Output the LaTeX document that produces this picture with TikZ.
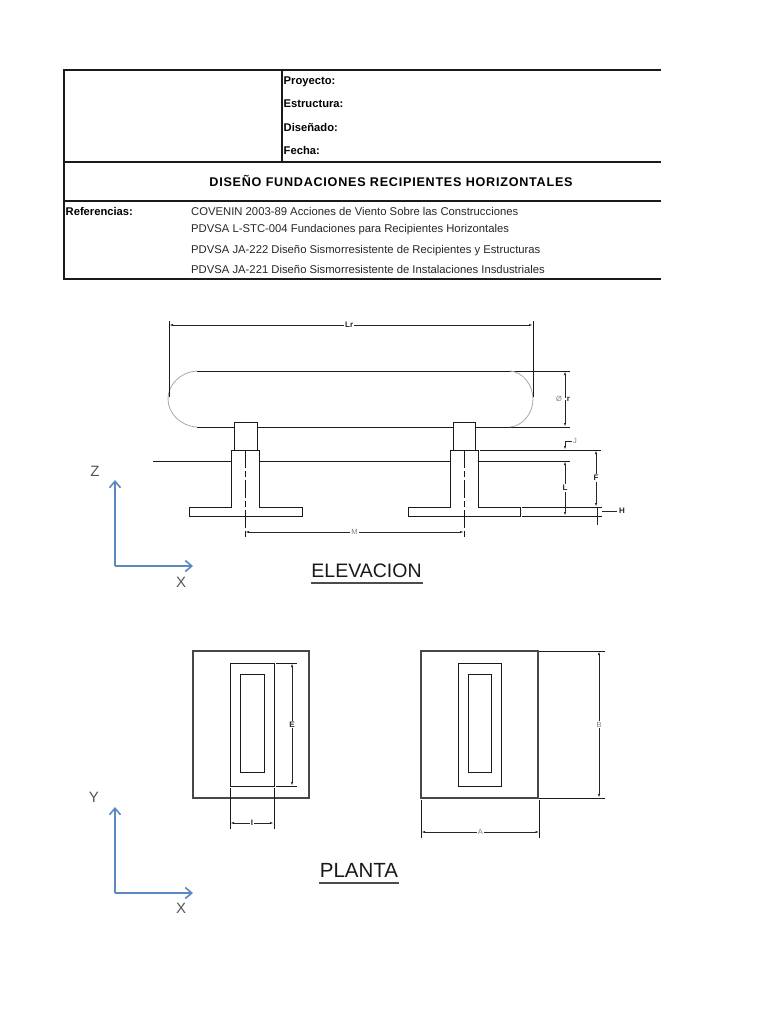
\documentclass[tikz,border=0pt]{standalone}
\usepackage{fontspec}
\setmainfont{Liberation Sans}
\newfontfamily\spacedbold[LetterSpace=6]{Liberation Sans}
\usetikzlibrary{arrows.meta}
\definecolor{axisblue}{HTML}{5B88BF}
\definecolor{axistext}{HTML}{555555}
\definecolor{softgray}{HTML}{A8A8A8}
\definecolor{inkline}{HTML}{1A1A1A}
\tikzset{
  rule/.style={line width=2pt,color=inkline},
  thinrule/.style={line width=1.3pt,color=inkline},
  part/.style={line width=1pt,color=inkline},
  plate/.style={line width=1.1pt,color=black!72},
  ext/.style={line width=.9pt,color=inkline},
  curve/.style={line width=.8pt,color=softgray},
  dimen/.style={line width=.8pt,color=black!85,{Latex[length=4pt,width=2.2pt]}-{Latex[length=4pt,width=2.2pt]}},
  dimenhalf/.style={line width=.8pt,color=black!85,-{Latex[length=4pt,width=2.2pt]}},
  axis/.style={line width=1.2pt,color=axisblue,-{Straight Barb[length=6.5pt,width=11pt,line width=1.6pt]}},
  head/.style={anchor=base west,inner sep=0pt,font=\fontsize{11.2}{12}\selectfont\bfseries},
  body/.style={anchor=base west,inner sep=0pt,font=\fontsize{11.28}{12}\selectfont,text=black!85},
  dimlabel/.style={inner sep=1pt,fill=white,font=\fontsize{8}{9}\selectfont\bfseries,text=black!85},
  dimsoft/.style={inner sep=1pt,fill=white,font=\fontsize{7.5}{8}\selectfont,text=black!50},
  axlabel/.style={inner sep=0pt,font=\fontsize{15}{16}\selectfont,text=axistext},
  viewname/.style={inner sep=0pt,font=\fontsize{19.5}{21}\selectfont,text=black!90},
}
\begin{document}
\begin{tikzpicture}[x=1pt,y=-1pt]
\useasboundingbox (0,0) rectangle (768,1024);
% title block
\draw[rule] (661,70) -- (64,70) -- (64,279) -- (661,279);
\draw[rule] (64,162) -- (661,162);
\draw[rule] (64,201) -- (661,201);
\draw[thinrule] (282,70) -- (282,162);
\node[head] (proy) at (283.5,85) {Proyecto:};
\node[head] (estr) at (283.5,108) {Estructura:};
\node[head] (dise) at (283.5,131.5) {Diseñado:};
\node[head] (fech) at (283.5,154.5) {Fecha:};
\node[anchor=center,inner sep=0pt,font=\fontsize{12.6}{14}\spacedbold\bfseries] (titulo) at (391,181) {DISEÑO FUNDACIONES RECIPIENTES HORIZONTALES};
\node[head] (refs) at (65.5,215) {Referencias:};
\node[body] (r1) at (191,215.5) {COVENIN 2003-89 Acciones de Viento Sobre las Construcciones};
\node[body] (r2) at (191,233) {PDVSA L-STC-004 Fundaciones para Recipientes Horizontales};
\node[body] (r3) at (191,253) {PDVSA JA-222 Diseño Sismorresistente de Recipientes y Estructuras};
\node[body] (r4) at (191,273) {PDVSA JA-221 Diseño Sismorresistente de Instalaciones Insdustriales};
% vessel
\draw[part] (197,371) -- (570,371);
\draw[part] (197,427) -- (234,427) (257,427) -- (453,427) (475,427) -- (510,427) (510,427) -- (570,427);
\draw[curve] (197,371) .. controls (180,372) and (168,385) .. (168,399) .. controls (168,413) and (180,426) .. (197,427);
\draw[curve] (510,371) .. controls (523,372) and (533,385) .. (533,399) .. controls (533,413) and (523,426) .. (510,427);
% supports
\draw[part] (234,450) -- (234,422) -- (257,422) -- (257,450);
\draw[part] (453,450) -- (453,422) -- (475,422) -- (475,450);
\draw[part] (231,507) -- (231,450) -- (259,450) -- (259,507) -- (302,507) -- (302,516) -- (189,516) -- (189,507) -- cycle;
\draw[part] (450,507) -- (450,450) -- (478,450) -- (478,507) -- (520,507) -- (520,516) -- (408,516) -- (408,507) -- cycle;
\draw[color=white,line width=1.2pt] (231.6,507) -- (258.4,507) (450.6,507) -- (477.4,507);
% ground line
\draw[part] (153,461) -- (231,461) (259,461) -- (450,461) (478,461) -- (570,461);
% centre lines
\draw[part,dash pattern=on 18pt off 3pt on 6pt off 3pt] (245,450) -- (245,537);
\draw[part,dash pattern=on 18pt off 3pt on 6pt off 3pt] (464,450) -- (464,537);
% extension lines
\draw[ext] (169,321) -- (169,397);
\draw[ext] (533,321) -- (533,397);
\draw[ext] (480,450) -- (601,450);
\draw[ext] (522,507) -- (602,507);
\draw[ext] (522,516) -- (602,516);
% dimensions
\draw[dimen] (169,325) -- node[dimlabel,pos=.495] (lr) {Lr} (533,325);
\draw[dimen] (245,532) -- node[dimsoft] (m) {M} (464,532);
\draw[dimen] (565,371) -- node[dimlabel] (rr) {\,} (565,427);
\node[dimsoft,fill=none] (phi) at (559,399) {Ø};
\node[dimlabel,fill=none] (rlab) at (568.5,399.5) {r};
\draw[dimenhalf] (572,441) -- (565,441) -- (565,450);
\node[dimsoft,fill=none] (j) at (575,440.5) {J};
\draw[dimen] (565,461) -- node[dimlabel,pos=.49] (l) {L} (565,516);
\draw[dimen] (596,450) -- node[dimlabel,pos=.49] (f) {F} (596,507);
\draw[line width=.8pt,color=black!85] (597,507) -- (597,525);
\draw[line width=.8pt,color=black!85] (602,511) -- (617,511);
\node[dimlabel,fill=none] (h) at (622,511) {H};
% plan left
\draw[plate] (193,651) rectangle (309,798);
\draw[part] (230,663) rectangle (274,786);
\draw[part] (240,674) rectangle (264,772);
\draw[ext] (276,663) -- (297,663);
\draw[ext] (276,786) -- (297,786);
\draw[dimen] (292,663) -- node[dimlabel] (e) {E} (292,786);
\draw[ext] (230,788) -- (230,829);
\draw[ext] (274,788) -- (274,829);
\draw[dimen] (230,823) -- node[dimlabel] (i) {I} (274,823);
% plan right
\draw[plate] (421,651) rectangle (538,798);
\draw[part] (458,663) rectangle (501,786);
\draw[part] (468,674) rectangle (491,772);
\draw[ext] (539,651) -- (605,651);
\draw[ext] (539,798) -- (605,798);
\draw[dimen] (599,651) -- node[dimsoft] (b) {B} (599,798);
\draw[ext] (421,800) -- (421,838);
\draw[ext] (539.5,800) -- (539.5,838);
\draw[dimen] (421,832) -- node[dimsoft] (a) {A} (539.5,832);
% axes
\coordinate (o1) at (115,566);
\coordinate (z1) at (115,480);
\coordinate (x1) at (193,566);
\draw[axis] (o1) -- (z1);
\draw[axis] (o1) -- (x1);
\node[axlabel] (zl) at (95,471) {Z};
\node[axlabel] (xl) at (181,582) {X};
\coordinate (o2) at (115,893);
\coordinate (y2) at (115,807);
\coordinate (x2) at (193,893);
\draw[axis] (o2) -- (y2);
\draw[axis] (o2) -- (x2);
\node[axlabel] (yl) at (94,797) {Y};
\node[axlabel] (xm) at (181,908) {X};
% view names
\node[viewname] (elev) at (366.5,571) {ELEVACION};
\draw[line width=1.2pt,color=black!70] (311,583) -- (423,583);
\node[viewname,font=\fontsize{20.5}{22}\selectfont] (plan) at (359,870) {PLANTA};
\draw[line width=1.2pt,color=black!70] (319,883) -- (399,883);
\end{tikzpicture}
\end{document}
